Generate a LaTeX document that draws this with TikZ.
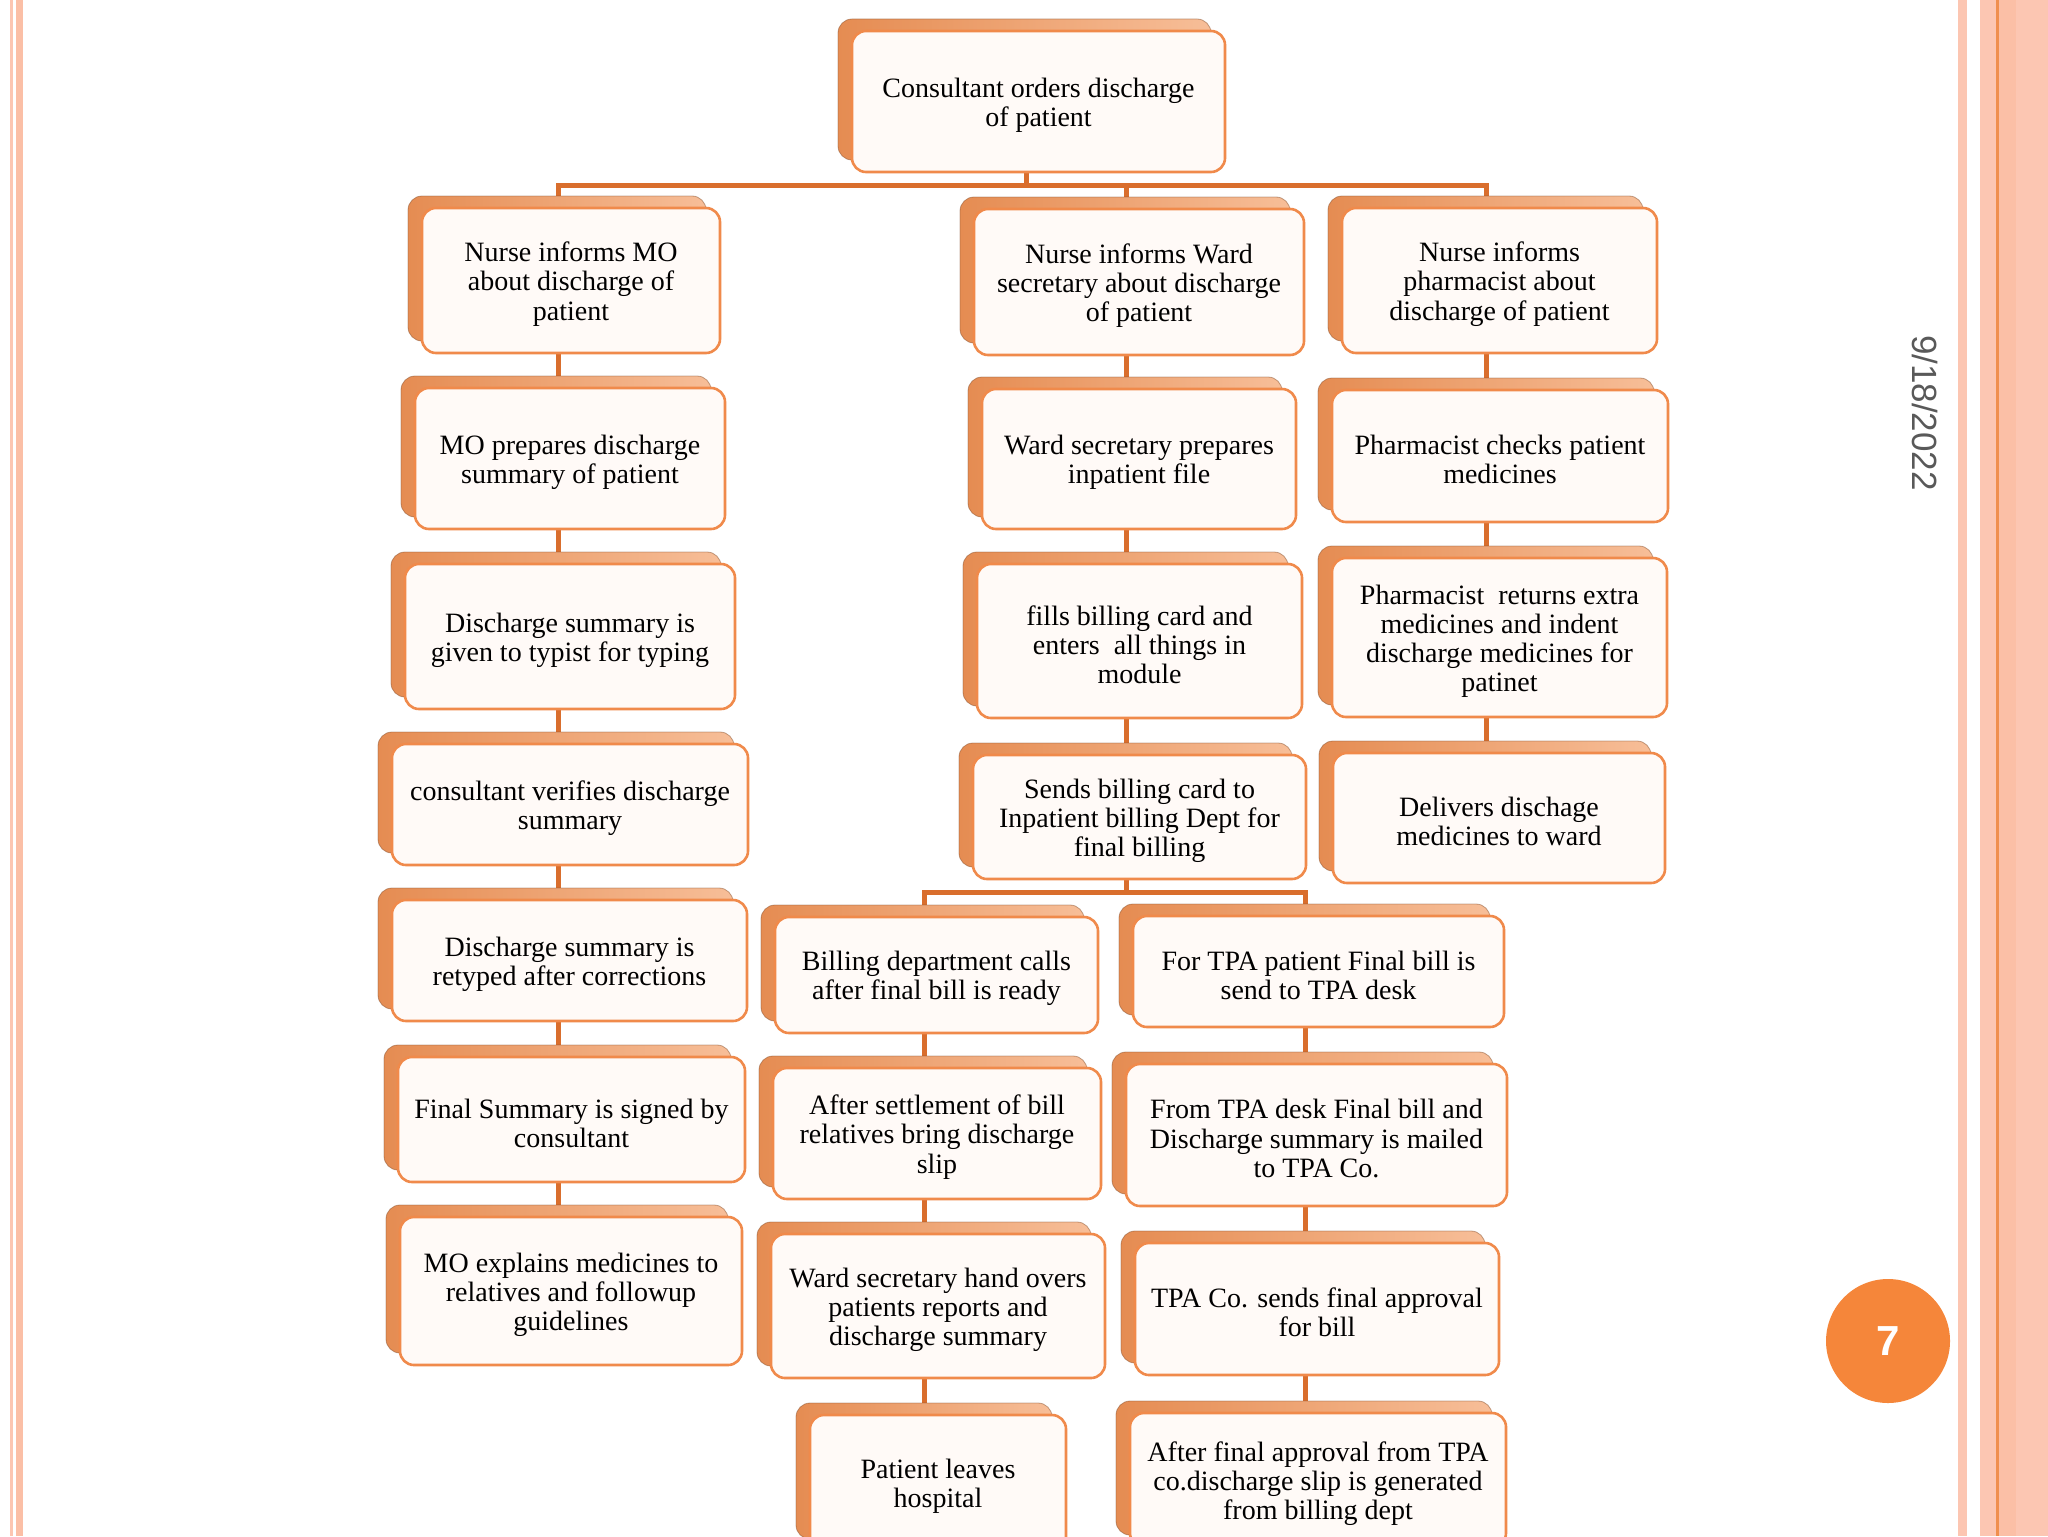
\documentclass[tikz,border=0pt]{standalone}
\usepackage{fontspec}
\setmainfont{Liberation Serif}
\newfontfamily\sansf{Liberation Sans}
\usetikzlibrary{calc}
\pgfdeclarelayer{paper}
\pgfdeclarelayer{bg}
\pgfsetlayers{paper,bg,main}

\definecolor{boxborder}{HTML}{F08A4B}
\definecolor{connc}{HTML}{D96E2D}
\definecolor{backL}{HTML}{E58C52}
\definecolor{backR}{HTML}{F7BE98}
\definecolor{frontfill}{HTML}{FFFAF7}
\definecolor{stripe}{HTML}{FCC6B2}
\definecolor{stripeD}{HTML}{FBBFA6}
\definecolor{stripeL}{HTML}{F08F4E}
\definecolor{datec}{HTML}{595959}
\definecolor{circc}{HTML}{F5863A}

\tikzset{
 frontbox/.style={draw=boxborder, line width=1.3pt, rounded corners=7pt, fill=frontfill, inner sep=0pt},
 boxtext/.style={align=center, font=\fontsize{14}{14.6}\selectfont, inner sep=0pt},
 backbox/.style={left color=backL, right color=backR, rounded corners=7pt},
 backline/.style={draw=backL!60!black, draw opacity=0.5, line width=0.4pt, rounded corners=7pt},
 conn/.style={draw=connc, line width=2.5pt},
}

\newcommand\flowbox[6]{%
  \pgfmathsetmacro\bw{(#4-#2)*0.5}%
  \pgfmathsetmacro\bh{(#5-#3)*0.5}%
  \path[backbox] ({#2-14},{#3-12}) rectangle ({#4-14},{#5-12});
  \path[backline] ({#2-14},{#3-12}) rectangle ({#4-14},{#5-12});
  \node[frontbox, minimum width=\bw pt, minimum height=\bh pt] (#1) at ({(#2+#4)/2},{(#3+#5)/2}) {};
  \node[boxtext] (#1t) at ([yshift=-1.8pt]#1.center) {#6};
}

\begin{document}
\begin{tikzpicture}[x=0.5pt,y=-0.5pt]
\useasboundingbox (0,0) rectangle (2048,1536);
\begin{pgfonlayer}{paper}
\fill[white] (0,0) rectangle (2048,1536);
\fill[stripe] (10,0) rectangle (13,1536);
\fill[stripeD] (16,0) rectangle (23,1536);
\fill[stripe] (1958,0) rectangle (1967,1536);
\fill[stripe] (1980,0) rectangle (2048,1536);
\fill[stripeD] (1998,0) rectangle (2016,1536);
\fill[stripeL] (1996,0) rectangle (1998.5,1536);
\end{pgfonlayer}

\node[rotate=-90, text=datec, font=\sansf\fontsize{17.5}{17.5}\selectfont] (date) at (1925,413) {9/18/2022};
\node[circle, fill=circc, minimum size=62pt, inner sep=0pt, text=white, font=\sansf\bfseries\fontsize{21}{21}\selectfont] (pgnum) at (1888,1341) {7};

\flowbox{T0}{852}{31}{1225}{172}{Consultant orders discharge\\of patient}
\flowbox{A1}{422}{208}{720}{353}{Nurse informs MO\\about discharge of\\patient}
\flowbox{A2}{415}{388}{725}{529}{MO prepares discharge\\summary of patient}
\flowbox{A3}{405}{564}{735}{709}{Discharge summary is\\given to typist for typing}
\flowbox{A4}{392}{744}{748}{865}{consultant verifies discharge\\summary}
\flowbox{A5}{392}{900}{747}{1021}{Discharge summary is\\retyped after corrections}
\flowbox{A6}{398}{1057}{745}{1182}{Final Summary is signed by\\consultant}
\flowbox{A7}{400}{1217}{742}{1365}{MO explains medicines to\\relatives and followup\\guidelines}
\flowbox{B1}{974}{209}{1304}{355}{Nurse informs Ward\\secretary about discharge\\of patient}
\flowbox{B2}{982}{389}{1296}{529}{Ward secretary prepares\\inpatient file}
\flowbox{B3}{977}{564}{1302}{718}{fills billing card and\\enters\ \ all things in\\module}
\flowbox{B4}{973}{755}{1306}{879}{Sends billing card to\\Inpatient billing Dept for\\final billing}
\flowbox{D1}{775}{917}{1098}{1033}{Billing department calls\\after final bill is ready}
\flowbox{D2}{773}{1068}{1101}{1199}{After settlement of bill\\relatives bring discharge\\slip}
\flowbox{D3}{771}{1234}{1105}{1378}{Ward secretary hand overs\\patients reports and\\discharge summary}
\flowbox{D4}{810}{1415}{1066}{1551}{Patient leaves\\hospital}
\flowbox{E1}{1133}{916}{1504}{1027}{For TPA patient Final bill is\\send to TPA desk}
\flowbox{E2}{1126}{1064}{1507}{1206}{From TPA desk Final bill and\\Discharge summary is mailed\\to TPA Co.}
\flowbox{E3}{1135}{1243}{1499}{1375}{TPA Co. sends final approval\\for bill}
\flowbox{E4}{1130}{1413}{1506}{1547}{After final approval from TPA\\co.discharge slip is generated\\from billing dept}
\flowbox{C1}{1342}{208}{1657}{353}{Nurse informs\\pharmacist about\\discharge of patient}
\flowbox{C2}{1332}{390}{1668}{522}{Pharmacist checks patient\\medicines}
\flowbox{C3}{1332}{558}{1667}{717}{Pharmacist\ \ returns extra\\medicines and indent\\discharge medicines for\\patinet}
\flowbox{C4}{1333}{753}{1665}{883}{Delivers dischage\\medicines to ward}

\coordinate (xT) at (1026,185);
\coordinate (xA) at (558,185);
\coordinate (xB) at (1126,185);
\coordinate (xC) at (1486,185);
\coordinate (xS) at (1126,892);
\coordinate (xD) at (924,892);
\coordinate (xE) at (1305,892);

\begin{pgfonlayer}{bg}
\draw[conn] (T0.south -| xT) -- (xT);
\draw[conn] (A1.north -| xA) -- (xA) -- (xC) -- (C1.north -| xC);
\draw[conn] (xB) -- (B1.north -| xB);
\foreach \a/\b in {A1/A2,A2/A3,A3/A4,A4/A5,A5/A6,A6/A7}
  \draw[conn] (\a.south -| xA) -- (\b.north -| xA);
\foreach \a/\b in {B1/B2,B2/B3,B3/B4}
  \draw[conn] (\a.south -| xB) -- (\b.north -| xB);
\foreach \a/\b in {C1/C2,C2/C3,C3/C4}
  \draw[conn] (\a.south -| xC) -- (\b.north -| xC);
\draw[conn] (B4.south -| xS) -- (xS);
\draw[conn] (D1.north -| xD) -- (xD) -- (xE) -- (E1.north -| xE);
\foreach \a/\b in {D1/D2,D2/D3,D3/D4}
  \draw[conn] (\a.south -| xD) -- (\b.north -| xD);
\foreach \a/\b in {E1/E2,E2/E3,E3/E4}
  \draw[conn] (\a.south -| xE) -- (\b.north -| xE);
\end{pgfonlayer}
\end{tikzpicture}
\end{document}
